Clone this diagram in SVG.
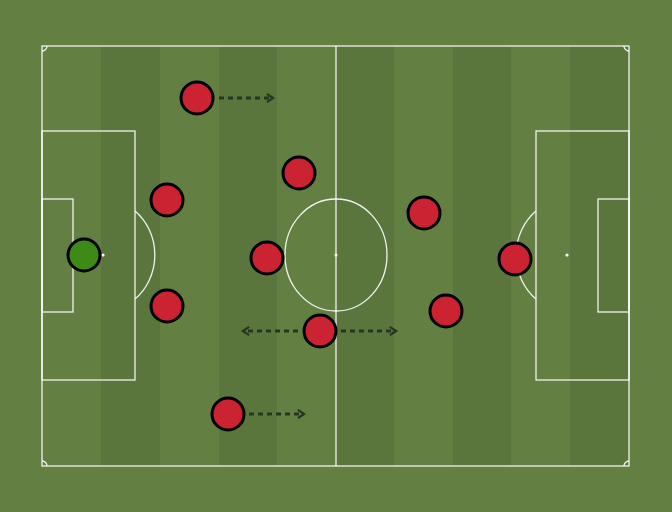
<svg xmlns="http://www.w3.org/2000/svg" width="672" height="512" viewBox="0 0 672 512">
<defs>
<style>
.ln{fill:none;stroke:#ffffff;stroke-width:1.3;stroke-opacity:0.9}
.st{fill:#5a763d}
.pl{fill:#cc2332;stroke:#000;stroke-width:3}
.gk{fill:#3d8a17;stroke:#000;stroke-width:3}
.ar{fill:none;stroke:#263620;stroke-width:3;stroke-dasharray:5 4;marker-end:url(#ah)}
</style>
<marker id="ah" viewBox="0 0 10 10" refX="7" refY="5" markerWidth="3.4" markerHeight="3.4" orient="auto" markerUnits="strokeWidth">
<path d="M1,1 L7,5 L1,9" fill="none" stroke="#263620" stroke-width="2.2"/>
</marker>
</defs>
<rect width="672" height="512" fill="#647f42"/>
<g id="stripes">
<rect class="st" x="101" y="46" width="59" height="420"/>
<rect class="st" x="219" y="46" width="58" height="420"/>
<rect class="st" x="336" y="46" width="58" height="420"/>
<rect class="st" x="453" y="46" width="58" height="420"/>
<rect class="st" x="570" y="46" width="59" height="420"/>
</g>
<g id="pitch">
<rect class="ln" x="42" y="46" width="587" height="420"/>
<line class="ln" x1="336" y1="46" x2="336" y2="466"/>
<ellipse class="ln" cx="336" cy="255" rx="51" ry="56"/>
<circle cx="336" cy="255" r="1.5" fill="#fff"/>
<rect class="ln" x="42" y="131" width="93" height="249"/>
<rect class="ln" x="42" y="199" width="31" height="113"/>
<circle cx="103" cy="255" r="1.6" fill="#fff"/>
<path class="ln" d="M135,211 A52,56 0 0 1 135,299"/>
<rect class="ln" x="536" y="131" width="93" height="249"/>
<rect class="ln" x="598" y="199" width="31" height="113"/>
<circle cx="567" cy="255" r="1.6" fill="#fff"/>
<path class="ln" d="M536,211 A52,56 0 0 0 536,299"/>
<path class="ln" d="M42,51 A5,5 0 0 0 47,46"/>
<path class="ln" d="M624,46 A5,5 0 0 0 629,51"/>
<path class="ln" d="M42,461 A5,5 0 0 1 47,466"/>
<path class="ln" d="M624,466 A5,5 0 0 1 629,461"/>
</g>
<g id="connectors">
<line class="ar" x1="219" y1="98" x2="273" y2="98"/>
<line class="ar" x1="341" y1="331" x2="396" y2="331"/>
<line class="ar" x1="298" y1="331" x2="243" y2="331"/>
<line class="ar" x1="249" y1="414" x2="304" y2="414"/>
</g>
<g id="p1"><circle class="pl" cx="197" cy="98" r="16"/></g>
<g id="p2"><circle class="pl" cx="299" cy="173" r="16"/></g>
<g id="p3"><circle class="pl" cx="167" cy="200" r="16"/></g>
<g id="p4"><circle class="pl" cx="267" cy="258" r="16"/></g>
<g id="p5"><circle class="pl" cx="167" cy="306" r="16"/></g>
<g id="p6"><circle class="pl" cx="320" cy="331" r="16"/></g>
<g id="p7"><circle class="pl" cx="228" cy="414" r="16"/></g>
<g id="p8"><circle class="pl" cx="424" cy="213" r="16"/></g>
<g id="p9"><circle class="pl" cx="515" cy="259" r="16"/></g>
<g id="p10"><circle class="pl" cx="446" cy="311" r="16"/></g>
<g id="gk"><circle class="gk" cx="84" cy="255" r="16"/></g>
</svg>
